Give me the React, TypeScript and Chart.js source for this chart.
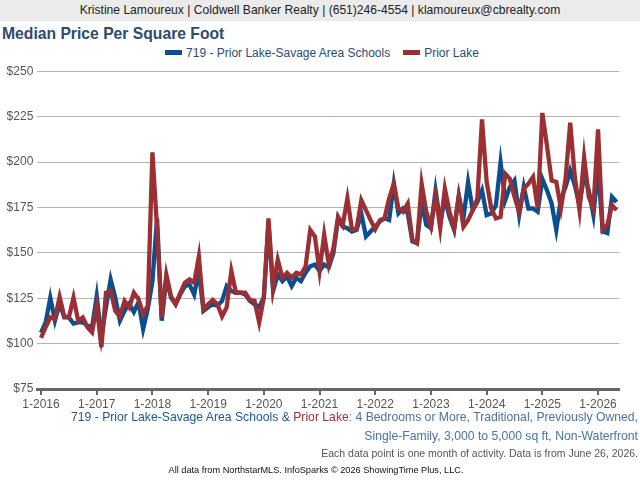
import React, { useEffect, useRef } from "react";
import { Chart, registerables } from "chart.js";

Chart.register(...registerables);

// Month index 0 = Jan 2016
const yearTicks = [0, 12, 24, 36, 48, 60, 72, 84, 96, 108, 120];
const tickLabels = ["1-2016", "1-2017", "1-2018", "1-2019", "1-2020", "1-2021", "1-2022", "1-2023", "1-2024", "1-2025", "1-2026"];
const yTicks = [75, 100, 125, 150, 175, 200, 225, 250];

const schoolDistrict = [
  106, 111.7, 125.3, 112.6, 122, 114.4, 114.4, 111, 111.7, 111.7, 110, 109,
  126.2, 103.5, 120, 135.3, 125.3, 112.6, 118, 122, 117.4, 122.8, 108, 119,
  134.4, 169, 112.6, 136, 125.3, 121.7, 127, 131.6, 132.5, 127, 140, 118,
  120, 121.7, 120.8, 123.5, 131.7, 129, 128, 128, 127, 123.5, 121.7, 120,
  125.3, 166, 129, 138, 134.4, 137, 131.7, 136.3, 134.4, 139, 142.6, 143.5,
  140, 143.5, 142, 150, 169, 164.4, 163.5, 161.7, 162.6, 171.7, 159, 161.7,
  164.4, 167.2, 169, 168, 188, 171.7, 174.4, 171.7, 156.3, 155.3, 178, 165.3,
  163.5, 184.4, 167, 179.8, 169.8, 162.6, 181.7, 169, 189, 173.5, 178, 184.4,
  170.8, 171.7, 176.2, 199.8, 179, 186.2, 189.8, 170.8, 186.2, 174.4, 174.4, 172.6,
  190.7, 184.4, 177.1, 162.6, 179.8, 186.2, 195.3, 187.1, 176.2, 192.6, 184.4, 170.8,
  197, 161.7, 160.8, 180.8, 178,
];

const priorLake = [
  103.2, 109, 114.4, 113.6, 125.7, 115, 114.4, 125.3, 112.6, 114.4, 109, 106.2,
  120.8, 98, 128, 129, 118, 115, 123.5, 120, 128, 124.4, 116.3, 120.8,
  205.3, 163.5, 114.4, 138, 126.2, 121.7, 128, 133.5, 135.3, 133.5, 148, 119,
  121.7, 124, 121.7, 115, 120, 140, 128, 128, 128, 124, 123.5, 111.7,
  125.3, 169, 130.8, 146.2, 136.3, 139, 136.3, 139, 138, 142.6, 162.6, 159,
  140, 160, 143.5, 152.6, 169.8, 165.3, 180, 162.6, 163.5, 179, 173.5, 168,
  163, 168, 169, 180, 188, 174.4, 172.6, 177.1, 157.1, 155.3, 188, 172.6,
  164.4, 181.7, 163.5, 185.3, 172.6, 163.5, 180.8, 164.4, 168, 173.5, 179.8, 223.5,
  189, 174.4, 169, 169.8, 193.5, 190.7, 180.8, 172.6, 185.3, 188, 191.7, 174.4,
  227, 208.9, 189.8, 189, 174.4, 190.7, 221.6, 191.7, 173.5, 202.6, 180.8, 174.4,
  218, 162.6, 165.3, 176.2, 173.5,
];

const BLUE = "#0b4f8f";
const RED = "#9c2f33";
const FONT = "'Liberation Sans', Arial, Helvetica, sans-serif";

export default function App() {
  const canvasRef = useRef<HTMLCanvasElement | null>(null);

  useEffect(() => {
    const canvas = canvasRef.current;
    if (!canvas) return;
    const chart = new Chart(canvas, {
      type: "line",
      data: {
        datasets: [
          {
            label: "719 - Prior Lake-Savage Area Schools",
            data: schoolDistrict.map((v, i) => ({ x: i, y: v })),
            borderColor: BLUE,
            backgroundColor: BLUE,
            borderWidth: 4.3,
            pointRadius: 0,
            tension: 0,
            order: 2,
          },
          {
            label: "Prior Lake",
            data: priorLake.map((v, i) => ({ x: i, y: v })),
            borderColor: RED,
            backgroundColor: RED,
            borderWidth: 4.3,
            pointRadius: 0,
            tension: 0,
            order: 1,
          },
        ],
      },
      options: {
        animation: false,
        responsive: false,
        maintainAspectRatio: false,
        layout: { padding: { top: 7.5, right: 20.6, left: 0, bottom: 0 } },
        plugins: { legend: { display: false }, tooltip: { enabled: false } },
        scales: {
          x: {
            type: "linear",
            min: -0.8,
            max: 124.6,
            afterBuildTicks: (s: any) => {
              s.ticks = yearTicks.map((v) => ({ value: v }));
            },
            afterFit: (s: any) => {
              s.height = 31;
            },
            ticks: {
              autoSkip: false,
              maxRotation: 0,
              padding: 2,
              color: "#555",
              font: { family: FONT, size: 12 },
              callback: (v: any) => {
                const k = yearTicks.indexOf(Number(v));
                return k >= 0 ? tickLabels[k] : "";
              },
            },
            grid: { drawOnChartArea: false, drawTicks: true, tickLength: 6, color: "#666", lineWidth: 2 },
            border: { color: "#666", width: 3 },
          },
          y: {
            min: 75,
            max: 250,
            afterBuildTicks: (s: any) => {
              s.ticks = yTicks.map((v) => ({ value: v }));
            },
            afterFit: (s: any) => {
              s.width = 37.3;
            },
            ticks: {
              padding: 4,
              color: "#555",
              font: { family: FONT, size: 12 },
              callback: (v: any) => "$" + v,
            },
            grid: { color: "#b5b5b5", lineWidth: 1, drawTicks: false },
            border: { display: false },
          },
        },
      },
    });
    return () => chart.destroy();
  }, []);

  const abs: React.CSSProperties = { position: "absolute", fontFamily: FONT, whiteSpace: "nowrap" };

  return (
    <div style={{ position: "absolute", left: 0, top: 0, width: 640, height: 480, background: "#fff", overflow: "hidden" }}>
      <div
        style={{
          ...abs,
          left: 0,
          top: 0,
          width: 640,
          height: 21,
          lineHeight: "21px",
          background: "#ebebeb",
          textAlign: "center",
          fontSize: 12.1,
          color: "#222",
        }}
      >
        Kristine Lamoureux | Coldwell Banker Realty | (651)246-4554 | klamoureux@cbrealty.com
      </div>
      <div style={{ ...abs, left: 2, top: 24, fontSize: 15.7, fontWeight: "bold", color: "#2c4b70", lineHeight: "20px" }}>
        Median Price Per Square Foot
      </div>
      <div
        style={{
          ...abs,
          left: 0,
          top: 44,
          width: 644,
          textAlign: "center",
          fontSize: 12,
          lineHeight: "16px",
          color: "#2b4c72",
        }}
      >
        <span style={{ display: "inline-block", width: 17, height: 5, background: BLUE, verticalAlign: "middle", marginRight: 4 }} />
        <span style={{ verticalAlign: "middle" }}>719 - Prior Lake-Savage Area Schools</span>
        <span style={{ display: "inline-block", width: 17, height: 5, background: RED, verticalAlign: "middle", marginLeft: 13, marginRight: 4 }} />
        <span style={{ verticalAlign: "middle" }}>Prior Lake</span>
      </div>
      <canvas
        ref={canvasRef}
        width={640}
        height={360}
        style={{ position: "absolute", left: 0, top: 60, width: 640, height: 360, display: "block" }}
      />
      <div style={{ ...abs, right: 2, top: 409, fontSize: 12.2, lineHeight: "16px", color: "#4a72a6", textAlign: "right" }}>
        <span style={{ color: "#1b5798" }}>719 - Prior Lake-Savage Area Schools &amp; </span>
        <span style={{ color: "#a03235" }}>Prior Lake</span>
        <span>: 4 Bedrooms or More, Traditional, Previously Owned,</span>
      </div>
      <div style={{ ...abs, right: 2, top: 428, fontSize: 12.2, lineHeight: "16px", color: "#4a72a6", textAlign: "right" }}>
        Single-Family, 3,000 to 5,000 sq ft, Non-Waterfront
      </div>
      <div style={{ ...abs, right: 2, top: 446, fontSize: 10.5, lineHeight: "14px", color: "#555", textAlign: "right" }}>
        Each data point is one month of activity. Data is from June 26, 2026.
      </div>
      <div style={{ ...abs, left: 0, width: 632, top: 463, fontSize: 9.2, lineHeight: "14px", color: "#111", textAlign: "center" }}>
        All data from NorthstarMLS. InfoSparks © 2026 ShowingTime Plus, LLC.
      </div>
    </div>
  );
}
